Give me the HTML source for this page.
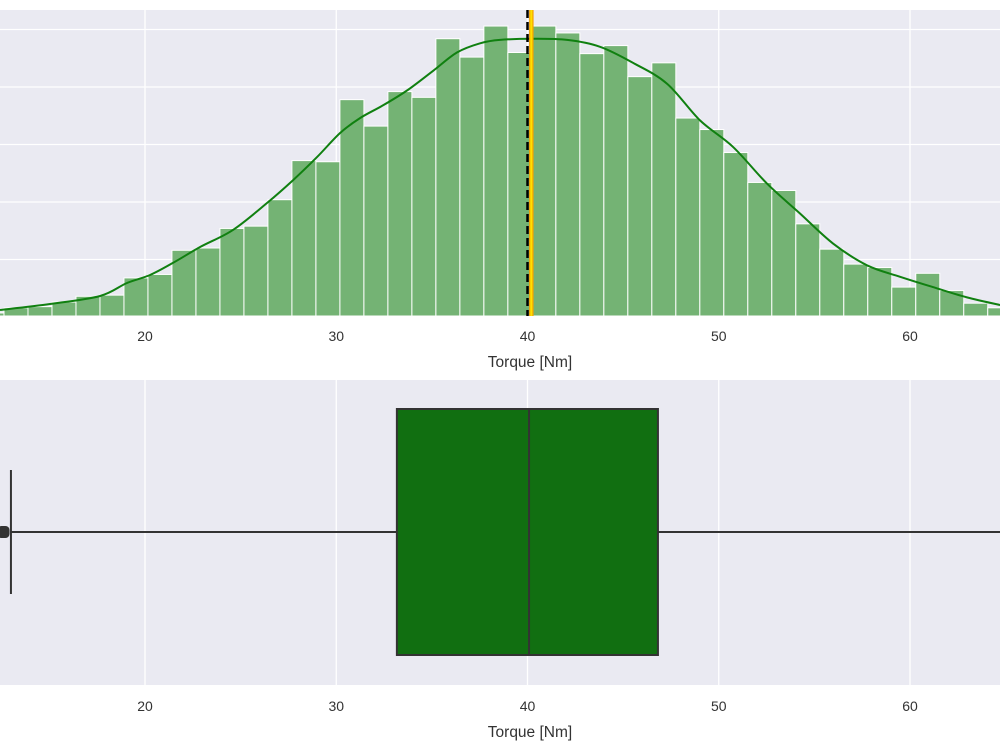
<!DOCTYPE html>
<html><head><meta charset="utf-8"><style>
html,body{margin:0;padding:0;background:#fff;}
svg{display:block;font-family:"Liberation Sans",sans-serif;}
</style></head><body>
<svg id="c" width="1000" height="750"></svg>
<script>
// Histogram data
const binStart = 11.372;
const binWidth = 1.2546;
const binCounts = [3.5,8,9,13,18,19,34,37,58,60,77,79,102,136,135,189,166,196,191,242,226,253,230,253,247,229,236,209,221,173,163,143,117,110,81,59,46,43,26,38,23,12,8];
// KDE curve samples
const kdeX = [12.42,15.03,17.65,19.06,20.26,21.46,22.88,24.6,26.38,27.74,28.99,30.2,31.24,32.44,33.7,35.06,36.31,37.52,38.56,40.29,42.07,43.79,45.52,47.29,49.02,50.74,52.52,54.25,55.97,57.75,59.48,61.2,62.98,64.71];
const kdeY = [6.1,11.3,18.3,29.6,36.5,47,60.9,75.7,99.1,119,139,160,173,184,197,214,230,238,241,242,241,235,221,203,171,148,116,90,64,45,35,26,17,10.4];
const meanVal = 40.0;
const medianVal = 40.2;
const yTicks = [0,50,100,150,200,250];
const xTicks = [20,30,40,50,60];
const xTickLabels = ["20","30","40","50","60"];
// Boxplot stats
const boxQ1 = 33.17, boxMed = 40.08, boxQ3 = 46.82, whiskLo = 12.99, whiskHi = 67.4;
const outliers = [12.6];

const NS="http://www.w3.org/2000/svg";
const svg=document.getElementById('c');
function mk(tag,attrs,parent){const e=document.createElementNS(NS,tag);for(const k in attrs)e.setAttribute(k,attrs[k]);(parent||svg).appendChild(e);return e;}
const X0=12.418, PX=19.125;
const xs=v=>(v-X0)*PX;
const T={top:10,bot:317}, B={top:380,bot:685};
const ys=v=>T.bot-v*1.15;

function smoothPath(pts){
  let d='M'+pts[0][0].toFixed(1)+','+pts[0][1].toFixed(1);
  for(let i=0;i<pts.length-1;i++){
    const p0=pts[i-1]||pts[i],p1=pts[i],p2=pts[i+1],p3=pts[i+2]||p2;
    const c1=[p1[0]+(p2[0]-p0[0])/6,p1[1]+(p2[1]-p0[1])/6];
    const c2=[p2[0]-(p3[0]-p1[0])/6,p2[1]-(p3[1]-p1[1])/6];
    d+='C'+c1[0].toFixed(1)+','+c1[1].toFixed(1)+' '+c2[0].toFixed(1)+','+c2[1].toFixed(1)+' '+p2[0].toFixed(1)+','+p2[1].toFixed(1);
  }
  return d;
}

// top panel
const g1=mk('g',{});


const bg1=mk('rect',{x:0,y:T.top,width:1000,height:306,fill:'#eaeaf2'},g1);


yTicks.forEach(t=>{const l=mk('line',{x1:0,x2:1000,y1:ys(t),y2:ys(t),stroke:'#fff','stroke-width':1.3},g1);

});
xTicks.forEach((t,i)=>{const l=mk('line',{x1:xs(t),x2:xs(t),y1:T.top,y2:316,stroke:'#fff','stroke-width':1.3},g1);


const tx=mk('text',{x:xs(t),y:341,'text-anchor':'middle','font-size':14,fill:'#333'},g1);tx.textContent=xTickLabels[i];

});
binCounts.forEach((c,i)=>{const x=xs(binStart+i*binWidth);const b=mk('rect',{x:x,y:ys(c),width:binWidth*PX,height:T.bot-1-ys(c),fill:'#74b374',stroke:'#fff','stroke-width':1},g1);

});
const kp=mk('path',{d:smoothPath(kdeX.map((x,i)=>[xs(x),ys(kdeY[i])])),fill:'none',stroke:'#108010','stroke-width':2},g1);


const ml=mk('line',{x1:xs(meanVal),x2:xs(meanVal),y1:T.top,y2:316,stroke:'#000','stroke-width':2.5,'stroke-dasharray':'8,4'},g1);


const md=mk('line',{x1:xs(medianVal),x2:xs(medianVal),y1:T.top,y2:316,stroke:'#f4a300','stroke-width':4.5},g1);


const md2=mk('line',{x1:xs(medianVal),x2:xs(medianVal),y1:T.top,y2:316,stroke:'#ffe000','stroke-width':2},g1);


const t1=mk('text',{x:530,y:367,'text-anchor':'middle','font-size':15.5,fill:'#333'},g1);t1.textContent='Torque [Nm]';



// bottom panel
const g2=mk('g',{});


const bg2=mk('rect',{x:0,y:B.top,width:1000,height:B.bot-B.top,fill:'#eaeaf2'},g2);


xTicks.forEach((t,i)=>{const l=mk('line',{x1:xs(t),x2:xs(t),y1:B.top,y2:B.bot,stroke:'#fff','stroke-width':1.3},g2);


const tx=mk('text',{x:xs(t),y:711,'text-anchor':'middle','font-size':14,fill:'#333'},g2);tx.textContent=xTickLabels[i];

});
const cy=532;
const wl=mk('line',{x1:xs(whiskLo),x2:xs(boxQ1),y1:cy,y2:cy,stroke:'#333','stroke-width':2},g2);


const wh=mk('line',{x1:xs(boxQ3),x2:xs(whiskHi),y1:cy,y2:cy,stroke:'#333','stroke-width':2},g2);


const cap=mk('line',{x1:xs(whiskLo),x2:xs(whiskLo),y1:470,y2:594,stroke:'#333','stroke-width':2},g2);


outliers.forEach(o=>{const d=mk('rect',{x:xs(o)-6,y:cy-6,width:12,height:12,rx:4,fill:'#333'},g2);

});
const bx=mk('rect',{x:xs(boxQ1),y:409,width:xs(boxQ3)-xs(boxQ1),height:246,fill:'#116f11',stroke:'#333','stroke-width':2},g2);


const bm=mk('line',{x1:xs(boxMed),x2:xs(boxMed),y1:409,y2:655,stroke:'#333','stroke-width':2},g2);


const t2=mk('text',{x:530,y:737,'text-anchor':'middle','font-size':15.5,fill:'#333'},g2);t2.textContent='Torque [Nm]';


</script>
</body></html>
